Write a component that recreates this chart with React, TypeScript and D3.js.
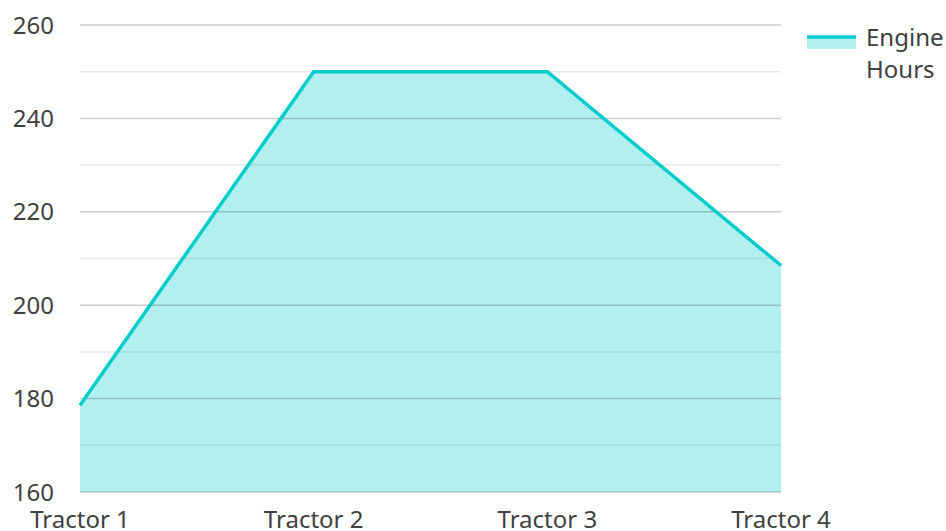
import React from 'react';
import { scaleLinear, scalePoint, line, area, range } from 'd3';

const categories = ['Tractor 1', 'Tractor 2', 'Tractor 3', 'Tractor 4'];
const engineHours = [178.6, 250, 250, 208.5];
const yTicks = [160, 180, 200, 220, 240, 260];
const seriesName = ['Engine', 'Hours'];

const W = 946;
const H = 531;
const margin = { top: 25, right: 165, bottom: 39, left: 80 };

const App = () => {
    const x = scalePoint<string>()
        .domain(categories)
        .range([margin.left, W - margin.right]);
    const y = scaleLinear().domain([160, 260]).range([H - margin.bottom, margin.top]);

    const pts = categories.map((c, i) => [x(c) as number, engineHours[i]] as [number, number]);
    const lineGen = line<[number, number]>().x((d) => d[0]).y((d) => y(d[1]));
    const areaGen = area<[number, number]>()
        .x((d) => d[0])
        .y0(y(160))
        .y1((d) => y(d[1]));

    const minor = range(170, 260, 20);
    const font = "'Noto Sans', 'Open Sans', sans-serif";

    return (
        <svg width={W} height={H} style={{ position: 'absolute', left: 0, top: 0 }} fontFamily={font}>
            <path d={areaGen(pts) || ''} fill="#b2efef" />
            {minor.map((t) => (
                <line key={'m' + t} x1={margin.left} x2={W - margin.right} y1={y(t)} y2={y(t)}
                    stroke="#000" strokeOpacity={0.09} strokeWidth={1.5} />
            ))}
            {yTicks.map((t) => (
                <line key={'g' + t} x1={margin.left} x2={W - margin.right} y1={y(t)} y2={y(t)}
                    stroke="#000" strokeOpacity={0.2} strokeWidth={1.5} />
            ))}
            <path d={lineGen(pts) || ''} fill="none" stroke="#00cccc" strokeWidth={3.5} />
            {yTicks.map((t) => (
                <text key={'y' + t} x={54} y={y(t)} dy="0.36em" textAnchor="end" fontSize={24} fill="#404040">
                    {t}
                </text>
            ))}
            {categories.map((c) => (
                <text key={c} x={x(c)} y={528} textAnchor="middle" fontSize={24} fill="#404040">
                    {c}
                </text>
            ))}
            <g>
                <rect x={807} y={36} width={49} height={13} fill="#b2efef" />
                <line x1={807} x2={856} y1={37} y2={37} stroke="#00cccc" strokeWidth={3.5} />
                {seriesName.map((s, i) => (
                    <text key={s} x={866} y={46 + i * 32} fontSize={24} fill="#404040">
                        {s}
                    </text>
                ))}
            </g>
        </svg>
    );
};

export default App;
